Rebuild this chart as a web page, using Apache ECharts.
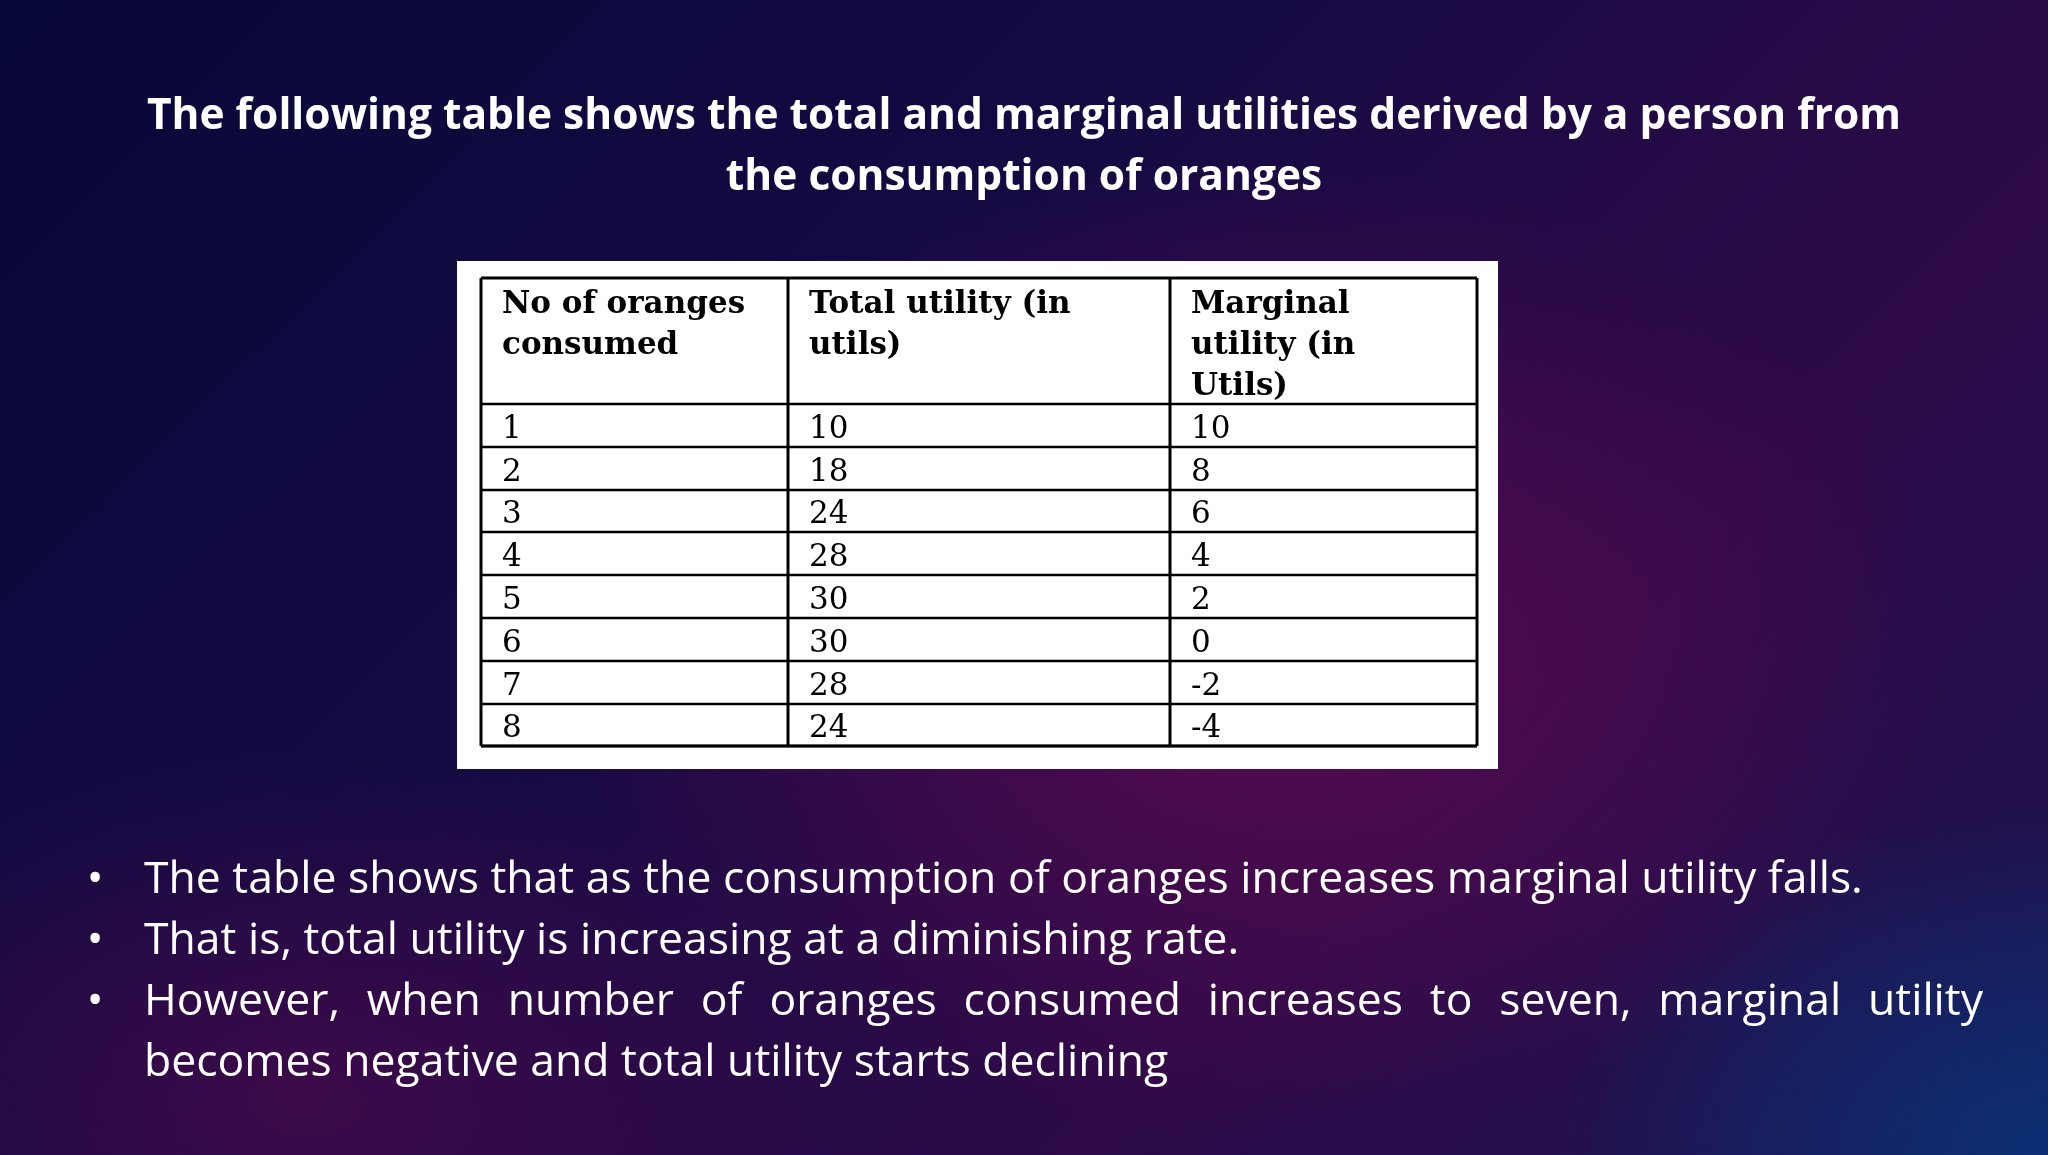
<!DOCTYPE html>
<html><head><meta charset="utf-8">
<script src="https://cdn.jsdelivr.net/npm/echarts@6/dist/echarts.min.js"></script>
<style>
html,body{margin:0;padding:0;width:2048px;height:1155px;overflow:hidden;
background:
radial-gradient(ellipse 1000px 700px at 1250px 650px, rgba(95,10,80,0.85), rgba(95,10,80,0) 70%),
radial-gradient(ellipse 700px 500px at 2048px 1155px, rgba(10,50,120,0.9), rgba(10,50,120,0) 70%),
radial-gradient(ellipse 800px 500px at 300px 1100px, rgba(70,10,75,0.8), rgba(70,10,75,0) 70%),
linear-gradient(135deg,#080838 0%,#120a42 35%,#2e0a48 70%,#1a1550 100%);}
#c{width:2048px;height:1155px;}
</style></head><body><div id="c"></div>
<script>
const titleLines = ["The following table shows the total and marginal utilities derived by a person from","the consumption of oranges"];
const headers = [["No of oranges","consumed"],["Total utility (in","utils)"],["Marginal","utility (in","Utils)"]];
const oranges = ["1","2","3","4","5","6","7","8"];
const totalUtility = [10,18,24,28,30,30,28,24];
const marginalUtility = [10,8,6,4,2,0,-2,-4];
const bullets = [
 ["The table shows that as the consumption of oranges increases marginal utility falls."],
 ["That is, total utility is increasing at a diminishing rate."],
 ["However, when number of oranges consumed increases to seven, marginal utility","becomes negative and total utility starts declining"]
];
const justified = [false,false,true];

const g = [];
const titleFont = 'bold 42.5px "Open Sans", sans-serif';
titleLines.forEach((t,i)=>g.push({type:'text',x:1024,y:117+i*61,style:{text:t,fill:'#fff',font:titleFont,align:'center',verticalAlign:'middle'}}));
g.push({type:'rect',shape:{x:457,y:261,width:1041,height:508},style:{fill:'#fff'}});
const L=481,R=1477,T=278,B=746, cols=[L,788,1170,R];
const rowY=[404,447,490,532,575,618,661,704,746];
const ln=(x1,y1,x2,y2,w)=>g.push({type:'line',shape:{x1,y1,x2,y2},style:{stroke:'#000',lineWidth:w}});
ln(L,T,R,T,3);ln(L,B,R,B,3);
cols.forEach(x=>ln(x,T,x,B,3));
rowY.forEach(y=>ln(L,y,R,y,2.5));
const serif='"DejaVu Serif",serif';
headers.forEach((h,c)=>h.forEach((t,k)=>g.push({type:'text',x:cols[c]+21,y:305+k*41,style:{text:t,fill:'#000',font:'bold 31px '+serif,verticalAlign:'middle'}})));
const cols3=[oranges,totalUtility,marginalUtility];
cols3.forEach((arr,c)=>arr.forEach((v,r)=>g.push({type:'text',x:cols[c]+21,y:(rowY[r]+rowY[r+1])/2+4,style:{text:String(v),fill:'#000',font:'31px '+serif,verticalAlign:'middle'}})));
const bf='44.5px "Open Sans", sans-serif';
const cv=document.createElement('canvas').getContext('2d');cv.font=bf;
let line=0; const X0=144,X1=1983,Y0=880,LH=61;
bullets.forEach((b,i)=>{
 g.push({type:'text',x:95,y:Y0+line*LH,style:{text:'•',fill:'#fff',font:bf,align:'center',verticalAlign:'middle'}});
 b.forEach((t,k)=>{
  const y=Y0+line*LH;
  if(justified[i] && k<b.length-1){
    const words=t.split(' ');const ws=words.map(w=>cv.measureText(w).width);
    const gap=(X1-X0-ws.reduce((a,c)=>a+c,0))/(words.length-1);
    let x=X0;words.forEach((w,j)=>{g.push({type:'text',x,y,style:{text:w,fill:'#fff',font:bf,verticalAlign:'middle'}});x+=ws[j]+gap;});
  } else g.push({type:'text',x:X0,y,style:{text:t,fill:'#fff',font:bf,verticalAlign:'middle'}});
  line++;
 });
});
const ch=echarts.init(document.getElementById('c'));
ch.setOption({backgroundColor:'transparent',graphic:g});
</script></body></html>
